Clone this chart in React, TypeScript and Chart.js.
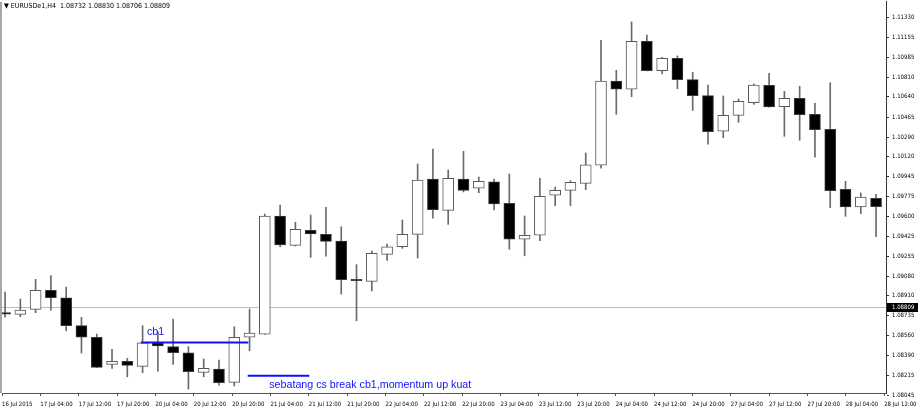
import React, { useEffect, useRef } from 'react';
import { Chart, registerables } from 'chart.js';

Chart.register(...registerables);

// ---- data ----
const chartTitle = '▼ EURUSDe1,H4  1.08732 1.08830 1.08706 1.08809';

const openPrices = [
  1.08763, 1.08748, 1.08791, 1.08957, 1.08892, 1.08649, 1.08548, 1.08312, 1.08339, 1.08295,
  1.085, 1.08466, 1.08413, 1.08243, 1.08272, 1.08156, 1.08548, 1.08574, 1.09604, 1.09348,
  1.09479, 1.09444, 1.09386, 1.09052, 1.09035, 1.0927, 1.09336, 1.09444, 1.09926, 1.09653,
  1.09926, 1.09845, 1.099, 1.09714, 1.09401, 1.09436, 1.09784, 1.09827, 1.09888, 1.10045,
  1.10779, 1.10707, 1.11125, 1.10869, 1.10977, 1.1079, 1.10651, 1.10341, 1.1048, 1.1059,
  1.10741, 1.10555, 1.10628, 1.10489, 1.10358, 1.09836, 1.09682, 1.09758,
];
const highPrices = [
  1.08942, 1.08881, 1.09052, 1.09084, 1.08985, 1.08722, 1.08576, 1.08443, 1.08365, 1.08649,
  1.08596, 1.08707, 1.08466, 1.08359, 1.0835, 1.0864, 1.08794, 1.09621, 1.09699, 1.09549,
  1.09612, 1.09679, 1.0951, 1.0918, 1.09299, 1.0936, 1.09569, 1.10056, 1.10187, 1.10004,
  1.10167, 1.09943, 1.09926, 1.09969, 1.09604, 1.09932, 1.09856, 1.09911, 1.10152, 1.11133,
  1.10872, 1.11293, 1.11179, 1.10985, 1.10997, 1.10855, 1.10744, 1.10648, 1.10622, 1.10753,
  1.10846, 1.10689, 1.10733, 1.10585, 1.10764, 1.09906, 1.09804, 1.09793,
];
const lowPrices = [
  1.08724, 1.08727, 1.08762, 1.08785, 1.08605, 1.08411, 1.08285, 1.08278, 1.08204, 1.08239,
  1.08254, 1.08312, 1.08097, 1.08204, 1.08132, 1.08124, 1.08431, 1.08572, 1.09336, 1.09342,
  1.09244, 1.09255, 1.08924, 1.08692, 1.08951, 1.09218, 1.09322, 1.09238, 1.09584, 1.09531,
  1.09813, 1.09806, 1.09656, 1.09314, 1.09258, 1.09389, 1.09693, 1.09693, 1.09833, 1.10019,
  1.10489, 1.10642, 1.10866, 1.1084, 1.10712, 1.10522, 1.10228, 1.10285, 1.10419, 1.10576,
  1.1055, 1.10297, 1.10263, 1.10115, 1.09676, 1.09601, 1.09624, 1.09423,
];
const closePrices = [
  1.0875, 1.08785, 1.08957, 1.08892, 1.08649, 1.08548, 1.08286, 1.08339, 1.08304, 1.085,
  1.08472, 1.08413, 1.08248, 1.08278, 1.08152, 1.08548, 1.08585, 1.09604, 1.09351, 1.09488,
  1.09447, 1.09383, 1.09049, 1.0904, 1.09279, 1.09336, 1.09444, 1.09917, 1.09658, 1.09932,
  1.09827, 1.09906, 1.09708, 1.09401, 1.09436, 1.09775, 1.09827, 1.09897, 1.10048, 1.10779,
  1.10707, 1.11125, 1.10869, 1.10977, 1.1079, 1.10651, 1.10338, 1.1048, 1.10602, 1.10744,
  1.10553, 1.10628, 1.10486, 1.10355, 1.09824, 1.09682, 1.09769, 1.09685,
];

const timeLabels = [
  '16 Jul 2015', '17 Jul 04:00', '17 Jul 12:00', '17 Jul 20:00', '20 Jul 04:00', '20 Jul 12:00',
  '20 Jul 20:00', '21 Jul 04:00', '21 Jul 12:00', '21 Jul 20:00', '22 Jul 04:00', '22 Jul 12:00',
  '22 Jul 20:00', '23 Jul 04:00', '23 Jul 12:00', '23 Jul 20:00', '24 Jul 04:00', '24 Jul 12:00',
  '24 Jul 20:00', '27 Jul 04:00', '27 Jul 12:00', '27 Jul 20:00', '28 Jul 04:00', '28 Jul 12:00',
];
const timeLabelStep = 2.51; // bars between axis labels

const priceTicks = [
  1.1133, 1.11155, 1.10985, 1.1081, 1.1064, 1.10465, 1.1029, 1.1012, 1.09945, 1.09775,
  1.096, 1.09425, 1.09255, 1.0908, 1.0891, 1.08735, 1.0856, 1.0839, 1.08215, 1.08045,
];

const bidPrice = 1.08809;
const xMin = -0.2;
const xMax = 57.65;
const yMin = 1.08063;
const yMax = 1.11475;

// hand-drawn annotations (bar index, price)
const cb1Line = { from: 8.88, to: 15.92, price: 1.08502 };
const breakLine = { from: 15.88, to: 19.91, price: 1.08213 };
const noteTexts = ['cb1', 'sebatang cs break cb1,momentum up kuat'];
const noteX = [9.29, 17.29];
const notePrice = [1.08596, 1.08132];

const smallFont = "'Liberation Sans Narrow', 'DejaVu Sans Condensed', 'Liberation Sans', sans-serif";
const noteFont = "'Liberation Sans', Arial, sans-serif";

const overlayPlugin = {
  id: 'overlay',
  beforeDatasetsDraw(chart: any) {
    const { ctx, chartArea, scales } = chart;
    const y = Math.round(scales.y.getPixelForValue(bidPrice)) + 0.5;
    ctx.save();
    ctx.strokeStyle = '#b3bcc8';
    ctx.lineWidth = 1;
    ctx.beginPath();
    ctx.moveTo(chartArea.left, y);
    ctx.lineTo(chartArea.right, y);
    ctx.stroke();
    ctx.restore();
  },
  afterDraw(chart: any) {
    const { ctx, chartArea, scales } = chart;
    ctx.save();
    // left frame
    ctx.fillStyle = '#a8a8a8';
    ctx.fillRect(0, 2, 2, chartArea.bottom - 2);
    // title
    ctx.fillStyle = '#000';
    ctx.font = `7px ${smallFont}`;
    ctx.textBaseline = 'middle';
    ctx.textAlign = 'left';
    ctx.fillText(chartTitle, 4, 6.5);
    // bid label
    const by = scales.y.getPixelForValue(bidPrice);
    ctx.fillStyle = '#000';
    ctx.fillRect(chartArea.right + 1, Math.round(by) - 4, 31, 9);
    ctx.fillStyle = '#fff';
    ctx.font = `6px ${smallFont}`;
    ctx.fillText(bidPrice.toFixed(5), chartArea.right + 6, Math.round(by) + 0.5);
    // notes
    ctx.fillStyle = '#1010ff';
    ctx.font = `10.7px ${noteFont}`;
    noteTexts.forEach((t, i) => {
      ctx.fillText(t, scales.x.getPixelForValue(noteX[i]), scales.y.getPixelForValue(notePrice[i]));
    });
    ctx.restore();
  },
};

export default function App() {
  const ref = useRef<HTMLCanvasElement>(null);
  useEffect(() => {
    document.body.style.margin = '0';
    const canvas = ref.current!;
    const isUp = closePrices.map((c, i) => c >= openPrices[i]);
    const chart = new Chart(canvas, {
      type: 'bar',
      data: {
        datasets: [
          {
            type: 'line',
            data: [
              { x: cb1Line.from, y: cb1Line.price },
              { x: cb1Line.to, y: cb1Line.price },
            ],
            borderColor: '#1010ff',
            borderWidth: 2,
            pointRadius: 0,
            order: -2,
          } as any,
          {
            type: 'line',
            data: [
              { x: breakLine.from, y: breakLine.price },
              { x: breakLine.to, y: breakLine.price },
            ],
            borderColor: '#1010ff',
            borderWidth: 2,
            pointRadius: 0,
            order: -2,
          } as any,
          {
            type: 'bar',
            data: openPrices.map((o, i) => ({ x: i, y: [o, closePrices[i]] })),
            backgroundColor: isUp.map((u) => (u ? '#ffffff' : '#000000')),
            borderColor: isUp.map((u) => (u ? '#5a5a5a' : '#3a3a3a')),
            borderWidth: 1,
            borderSkipped: false,
            barThickness: 11,
            grouped: false,
            order: 0,
          } as any,
          {
            type: 'bar',
            data: highPrices.map((h, i) => ({ x: i, y: [lowPrices[i], h] })),
            backgroundColor: '#6a6a6a',
            borderWidth: 0,
            barThickness: 1,
            grouped: false,
            order: 1,
          } as any,
        ],
      },
      options: {
        responsive: false,
        animation: false,
        layout: { padding: { left: 2, top: 1, right: 0, bottom: 0 } },
        plugins: { legend: { display: false }, tooltip: { enabled: false } },
        scales: {
          x: {
            type: 'linear',
            position: 'bottom',
            min: xMin,
            max: xMax,
            offset: false,
            grid: {
              offset: false,
              drawOnChartArea: false,
              drawTicks: true,
              tickLength: 3,
              color: '#555',
            },
            border: { display: true, color: '#555', width: 1 },
            ticks: {
              autoSkip: false,
              maxRotation: 0,
              minRotation: 0,
              align: 'start',
              padding: 5,
              color: '#000',
              font: { family: smallFont, size: 6 },
              callback: (_v: any, idx: number) => timeLabels[idx],
            },
            afterBuildTicks: (scale: any) => {
              scale.ticks = timeLabels.map((_, k) => ({ value: xMin + k * timeLabelStep }));
            },
            afterFit: (scale: any) => {
              scale.height = 17;
              scale.paddingLeft = 0;
              scale.paddingRight = 0;
            },
          } as any,
          y: {
            type: 'linear',
            position: 'right',
            min: yMin,
            max: yMax,
            grid: {
              drawOnChartArea: false,
              drawTicks: true,
              tickLength: 3,
              color: '#333',
            },
            border: { display: true, color: '#333', width: 1 },
            ticks: {
              padding: 3,
              color: '#000',
              font: { family: smallFont, size: 6 },
              callback: (v: any) => Number(v).toFixed(5),
            },
            afterBuildTicks: (scale: any) => {
              scale.ticks = priceTicks.map((v) => ({ value: v }));
            },
            afterFit: (scale: any) => {
              scale.width = 36;
              scale.paddingTop = 0;
              scale.paddingBottom = 0;
            },
          } as any,
        },
      },
      plugins: [overlayPlugin],
    } as any);
    return () => chart.destroy();
  }, []);
  return <canvas ref={ref} width={922} height={410} style={{ display: 'block' }} />;
}
